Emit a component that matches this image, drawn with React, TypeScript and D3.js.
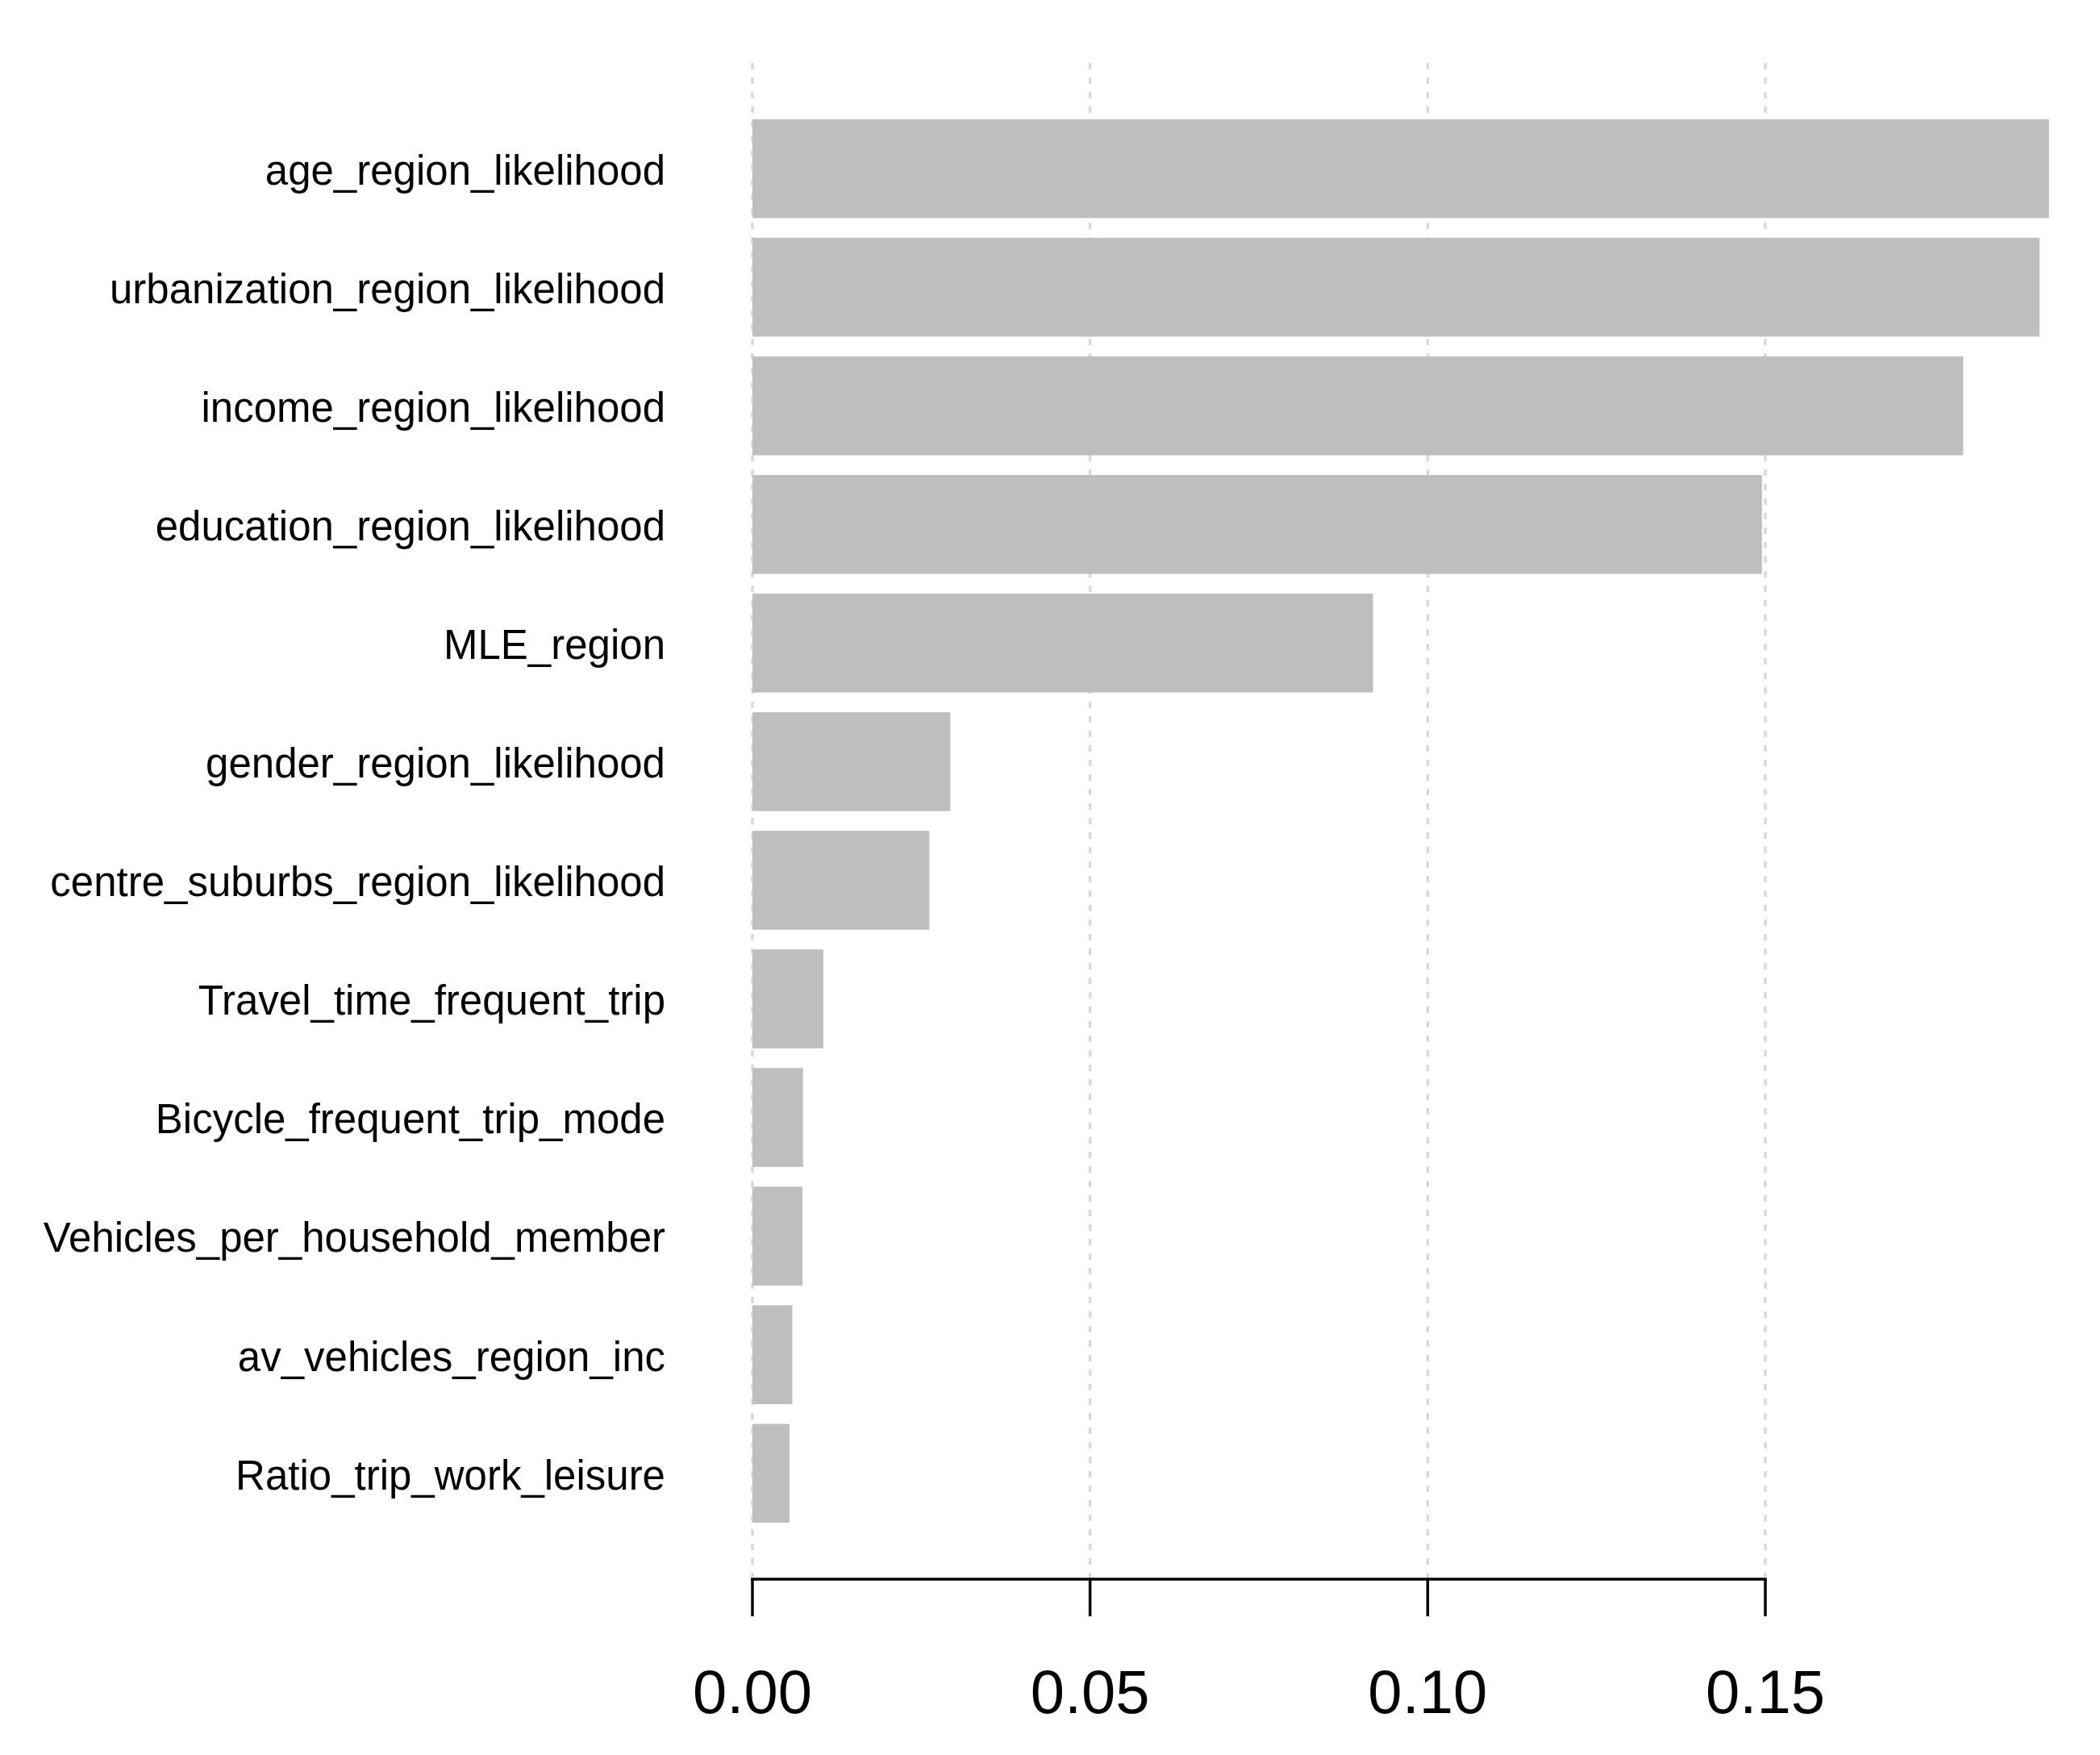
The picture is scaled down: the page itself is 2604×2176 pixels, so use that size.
import React from "react";
import * as d3 from "d3";

const categories = [
  "age_region_likelihood",
  "urbanization_region_likelihood",
  "income_region_likelihood",
  "education_region_likelihood",
  "MLE_region",
  "gender_region_likelihood",
  "centre_suburbs_region_likelihood",
  "Travel_time_frequent_trip",
  "Bicycle_frequent_trip_mode",
  "Vehicles_per_household_member",
  "av_vehicles_region_inc",
  "Ratio_trip_work_leisure",
];

const importance = [
  0.192, 0.1906, 0.1793, 0.1495, 0.0919, 0.0293, 0.0262, 0.0105, 0.0075, 0.0074,
  0.0059, 0.0055,
];

const tickValues = [0, 0.05, 0.1, 0.15];
const tickLabels = ["0.00", "0.05", "0.10", "0.15"];

const W = 2604;
const H = 2176;

export default function App() {
  const x = d3.scaleLinear().domain([0, 0.15]).range([933, 2189]);
  const y = d3
    .scaleBand<string>()
    .domain(categories)
    .range([147.8, 1888])
    .paddingInner(1 / 6)
    .paddingOuter(0);

  const gridTop = 78;
  const axisY = 1958;
  const font = "'Liberation Sans', Arial, Helvetica, sans-serif";

  return (
    <svg
      width={W}
      height={H}
      viewBox={`0 0 ${W} ${H}`}
      style={{ position: "absolute", left: 0, top: 0, background: "#fff" }}
    >
      <rect x={0} y={0} width={W} height={H} fill="#fff" />
      {/* grid */}
      <g>
        {tickValues.map((t) => (
          <line
            key={t}
            x1={x(t)}
            x2={x(t)}
            y1={gridTop}
            y2={axisY}
            stroke="#d9d9d9"
            strokeWidth={3.5}
            strokeDasharray="8 10"
          />
        ))}
      </g>
      {/* bars */}
      <g>
        {categories.map((c, i) => (
          <rect
            key={c}
            x={x(0)}
            y={y(c)}
            width={x(importance[i]) - x(0)}
            height={y.bandwidth()}
            fill="#bebebe"
          />
        ))}
      </g>
      {/* category labels */}
      <g fontFamily={font} fontSize={51} fill="#000" textAnchor="end">
        {categories.map((c) => (
          <text key={c} x={825} y={(y(c) as number) + y.bandwidth() / 2} dy="0.39em">
            {c}
          </text>
        ))}
      </g>
      {/* x axis */}
      <g stroke="#000" strokeWidth={3.5} fill="none">
        <line x1={x(0)} x2={x(0.15)} y1={axisY} y2={axisY} strokeLinecap="square" />
        {tickValues.map((t) => (
          <line key={t} x1={x(t)} x2={x(t)} y1={axisY} y2={2004} />
        ))}
      </g>
      <g fontFamily={font} fontSize={76} fill="#000" textAnchor="middle">
        {tickValues.map((t, i) => (
          <text key={t} x={x(t)} y={2124}>
            {tickLabels[i]}
          </text>
        ))}
      </g>
    </svg>
  );
}
